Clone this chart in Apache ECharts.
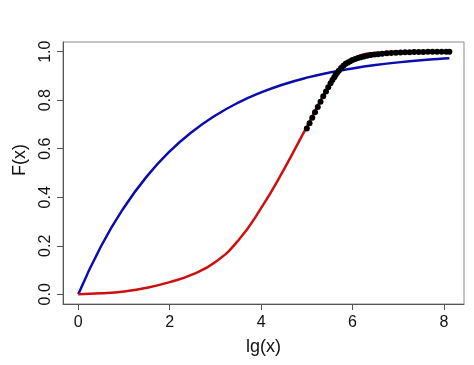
<!DOCTYPE html>
<html>
<head>
<meta charset="utf-8">
<script src="https://cdn.jsdelivr.net/npm/echarts@6/dist/echarts.min.js"></script>
<style>
  html, body { margin: 0; padding: 0; background: #fff; }
  #chart { width: 474px; height: 365px; }
</style>
</head>
<body>
<div id="chart"></div>
<script>
// values
const xTicks = [0, 2, 4, 6, 8];
const yTicks = [0, 0.2, 0.4, 0.6, 0.8, 1.0];

// blue curve
const blueX = [0, 0.5, 1, 1.5, 2, 2.5, 3, 3.5, 4, 4.5, 5, 5.5, 6, 6.5, 7, 7.5, 8, 8.12];
const blueY = [0, 0.199, 0.358, 0.486, 0.589, 0.671, 0.737, 0.79, 0.832, 0.866, 0.893, 0.914, 0.931, 0.945, 0.956, 0.965, 0.972, 0.973];

// red curve
const redX = [0, 0.5, 1, 1.5, 2, 2.5, 3, 3.5, 4, 4.5, 5, 5.5, 6, 6.5, 7];
const redY = [0, 0.004, 0.012, 0.027, 0.05, 0.082, 0.133, 0.222, 0.355, 0.515, 0.69, 0.86, 0.965, 0.995, 1.0];

// black points
const dotX = [5.00, 5.06, 5.12, 5.18, 5.24, 5.30, 5.36, 5.42, 5.47, 5.52, 5.56, 5.60, 5.63,
  5.66, 5.70, 5.75, 5.80, 5.85, 5.90, 5.95, 6.00, 6.06, 6.12, 6.18, 6.25, 6.32, 6.40, 6.48, 6.56, 6.65,
  6.75, 6.85, 6.95, 7.05, 7.15, 7.25, 7.35, 7.45, 7.55, 7.65, 7.75, 7.85, 7.95, 8.05, 8.12];
const dotY = [0.683, 0.705, 0.728, 0.750, 0.772, 0.794, 0.816, 0.836, 0.853, 0.870, 0.883, 0.895, 0.904,
  0.912, 0.922, 0.933, 0.942, 0.950, 0.956, 0.961, 0.966, 0.970, 0.974, 0.977, 0.980, 0.983, 0.986, 0.988, 0.990, 0.992,
  0.994, 0.995, 0.996, 0.997, 0.998, 0.998, 0.999, 0.999, 0.999, 1.0, 1.0, 1.0, 1.0, 1.0, 1.0];

const zip = (xs, ys) => xs.map((x, i) => [x, ys[i]]);

const font = 'Liberation Sans, Arial, sans-serif';
const chart = echarts.init(document.getElementById('chart'), null, { renderer: 'canvas' });

chart.setOption({
  animation: false,
  backgroundColor: '#fff',
  grid: {
    left: 63, top: 42, width: 401, height: 262,
    show: true, borderColor: '#8a8a8a', borderWidth: 1
  },
  xAxis: {
    type: 'value',
    min: -0.335, max: 8.44,
    name: 'lg(x)', nameLocation: 'middle', nameGap: 34,
    nameTextStyle: { fontFamily: font, fontSize: 18, color: '#111' },
    axisLine: { show: true, onZero: false, lineStyle: { color: '#555', width: 1 } },
    axisTick: { show: true, length: 6, customValues: xTicks, lineStyle: { color: '#555' } },
    axisLabel: {
      customValues: xTicks, margin: 11,
      fontFamily: font, fontSize: 16, color: '#111'
    },
    splitLine: { show: false }
  },
  yAxis: {
    type: 'value',
    min: -0.04, max: 1.04,
    name: 'F(x)', nameLocation: 'middle', nameGap: 34, nameRotate: 90,
    nameTextStyle: { fontFamily: font, fontSize: 18, color: '#111', padding: [0, 0, 0, 26] },
    axisLine: { show: true, onZero: false, lineStyle: { color: '#555', width: 1 } },
    axisTick: { show: true, length: 6, customValues: yTicks, lineStyle: { color: '#555' } },
    axisLabel: {
      customValues: yTicks, margin: 9, rotate: 90,
      fontFamily: font, fontSize: 16, color: '#111',
      formatter: v => v.toFixed(1)
    },
    splitLine: { show: false }
  },
  series: [
    {
      type: 'line', data: zip(blueX, blueY), smooth: 0.5, showSymbol: false,
      lineStyle: { color: '#0c0cae', width: 2.5 }, z: 2
    },
    {
      type: 'line', data: zip(redX, redY), smooth: 0.5, showSymbol: false,
      lineStyle: { color: '#cc1010', width: 2.5 }, z: 3
    },
    {
      type: 'scatter', data: zip(dotX, dotY), symbol: 'circle', symbolSize: 6,
      itemStyle: { color: '#000', opacity: 1 }, z: 4
    }
  ]
});
</script>
</body>
</html>
